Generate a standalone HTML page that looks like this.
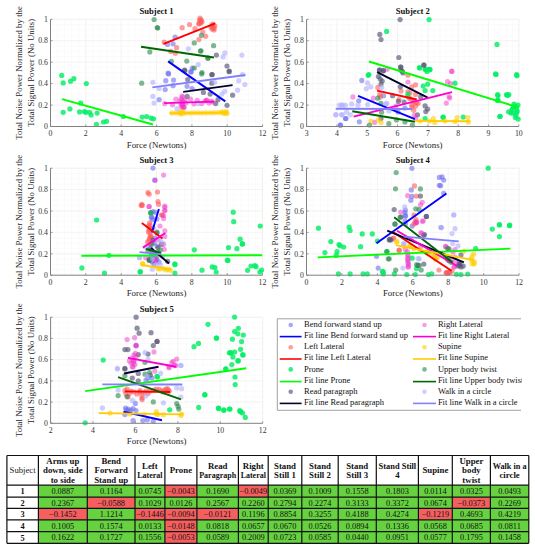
<!DOCTYPE html>
<html><head><meta charset="utf-8"><style>
html,body{margin:0;padding:0;background:#fff;width:535px;height:550px;overflow:hidden}
svg{position:absolute;left:0;top:0;display:block}
text{font-family:"Liberation Serif", serif;fill:#222}
.tk{font-size:7.8px;fill:#333}
.ti{font-size:8.6px;font-weight:bold;fill:#111}
.lb{font-size:8.85px;fill:#222}
.lg{font-size:8.5px;fill:#111}
.tv{font-size:8.3px;fill:#111}
.tsub{font-size:8.7px;fill:#222}
.tb{font-size:8.3px;font-weight:bold;fill:#111}
.th{font-size:8.8px;font-weight:bold;fill:#111}
</style></head><body>
<svg width="535" height="550" viewBox="0 0 535 550">
<path d="M57.6 19.3V126.5M64.6 19.3V126.5M71.7 19.3V126.5M78.8 19.3V126.5M85.9 19.3V126.5M92.9 19.3V126.5M100 19.3V126.5M107.1 19.3V126.5M114.1 19.3V126.5M121.2 19.3V126.5M128.3 19.3V126.5M135.3 19.3V126.5M142.4 19.3V126.5M149.5 19.3V126.5M156.6 19.3V126.5M163.6 19.3V126.5M170.7 19.3V126.5M177.8 19.3V126.5M184.8 19.3V126.5M191.9 19.3V126.5M199 19.3V126.5M206 19.3V126.5M213.1 19.3V126.5M220.2 19.3V126.5M227.3 19.3V126.5M234.3 19.3V126.5M241.4 19.3V126.5M248.5 19.3V126.5M255.5 19.3V126.5M50.5 121.1H262.6M50.5 115.8H262.6M50.5 110.4H262.6M50.5 105.1H262.6M50.5 99.7H262.6M50.5 94.3H262.6M50.5 89H262.6M50.5 83.6H262.6M50.5 78.3H262.6M50.5 72.9H262.6M50.5 67.5H262.6M50.5 62.2H262.6M50.5 56.8H262.6M50.5 51.5H262.6M50.5 46.1H262.6M50.5 40.7H262.6M50.5 35.4H262.6M50.5 30H262.6M50.5 24.7H262.6" stroke="#f7f7f7" stroke-width="0.5" fill="none"/>
<path d="M85.8 19.3V126.5M121.2 19.3V126.5M156.6 19.3V126.5M191.9 19.3V126.5M227.2 19.3V126.5M50.5 105.1H262.6M50.5 83.6H262.6M50.5 62.2H262.6M50.5 40.7H262.6" stroke="#efefef" stroke-width="0.6" fill="none"/>
<path d="M50.5 19.3H262.6V126.5" stroke="#ececec" stroke-width="0.8" fill="none"/>
<g fill="rgba(110,110,240,0.6)"><circle cx="175.1" cy="37.2" r="2.6"/><circle cx="173.1" cy="43.8" r="2.6"/><circle cx="167.5" cy="44.4" r="2.6"/><circle cx="192.3" cy="68" r="2.6"/><circle cx="191" cy="71.9" r="2.6"/><circle cx="168.1" cy="73.2" r="2.6"/><circle cx="168.6" cy="73.9" r="2.6"/><circle cx="191" cy="71.7" r="2.6"/><circle cx="173.6" cy="80.1" r="2.6"/><circle cx="165.8" cy="80.7" r="2.6"/><circle cx="187.1" cy="86.3" r="2.6"/><circle cx="173.1" cy="85.7" r="2.6"/><circle cx="165.2" cy="89.6" r="2.6"/><circle cx="159.1" cy="99.7" r="2.6"/><circle cx="192.1" cy="88.5" r="2.6"/></g>
<g fill="rgba(255,90,90,0.6)"><circle cx="182.1" cy="27.7" r="2.6"/><circle cx="189.5" cy="24.6" r="2.6"/><circle cx="199.5" cy="20.2" r="2.6"/><circle cx="198.9" cy="23.5" r="2.6"/><circle cx="195" cy="28.7" r="2.6"/><circle cx="202.8" cy="32" r="2.6"/><circle cx="205.7" cy="36.3" r="2.6"/><circle cx="198.9" cy="39.6" r="2.6"/><circle cx="164.2" cy="42.2" r="2.6"/><circle cx="176.6" cy="47.7" r="2.6"/><circle cx="170.7" cy="51.4" r="2.6"/><circle cx="175.3" cy="53.2" r="2.6"/><circle cx="214" cy="28.4" r="2.6"/><circle cx="201.2" cy="19.9" r="2.6"/><circle cx="200.6" cy="22.9" r="2.6"/><circle cx="212" cy="25" r="2.6"/><circle cx="200" cy="18" r="2.6"/><circle cx="201" cy="21" r="2.6"/><circle cx="199" cy="24" r="2.6"/><circle cx="202" cy="22" r="2.6"/><circle cx="213" cy="27" r="2.6"/><circle cx="212" cy="29" r="2.6"/><circle cx="214" cy="30" r="2.6"/><circle cx="215" cy="26" r="2.6"/><circle cx="213" cy="24" r="2.6"/><circle cx="211" cy="27" r="2.6"/></g>
<g fill="rgba(0,238,100,0.82)"><circle cx="61.7" cy="75.4" r="2.6"/><circle cx="63.2" cy="82.9" r="2.6"/><circle cx="70.5" cy="81.2" r="2.6"/><circle cx="73.9" cy="78.7" r="2.6"/><circle cx="86.3" cy="83.5" r="2.6"/><circle cx="80.7" cy="103" r="2.6"/><circle cx="63.2" cy="112.3" r="2.6"/><circle cx="69.9" cy="108.9" r="2.6"/><circle cx="79.6" cy="111.9" r="2.6"/><circle cx="84.4" cy="111.6" r="2.6"/><circle cx="85.9" cy="112.3" r="2.6"/><circle cx="89.6" cy="112.3" r="2.6"/><circle cx="91.1" cy="115" r="2.6"/><circle cx="97.1" cy="113.1" r="2.6"/><circle cx="96.4" cy="124.3" r="2.6"/><circle cx="103.5" cy="122" r="2.6"/><circle cx="106.5" cy="121.3" r="2.6"/><circle cx="123.3" cy="116.5" r="2.6"/><circle cx="142.2" cy="117.1" r="2.6"/><circle cx="151.2" cy="118.2" r="2.6"/><circle cx="146.7" cy="116.5" r="2.6"/><circle cx="153.5" cy="118.8" r="2.6"/></g>
<g fill="rgba(85,85,115,0.65)"><circle cx="184.5" cy="70" r="2.6"/><circle cx="216.4" cy="55.1" r="2.6"/><circle cx="227" cy="66" r="2.6"/><circle cx="229.2" cy="71.1" r="2.6"/><circle cx="212.2" cy="74.5" r="2.6"/><circle cx="187.7" cy="79.5" r="2.6"/><circle cx="184.9" cy="70.6" r="2.6"/><circle cx="187.1" cy="96.4" r="2.6"/><circle cx="229.2" cy="71.7" r="2.6"/><circle cx="211.8" cy="74.7" r="2.6"/><circle cx="211.8" cy="83.2" r="2.6"/><circle cx="232.6" cy="95.2" r="2.6"/><circle cx="227" cy="105.3" r="2.6"/><circle cx="210.1" cy="94.1" r="2.6"/><circle cx="203.4" cy="92.4" r="2.6"/><circle cx="218" cy="99.7" r="2.6"/><circle cx="215.7" cy="103.6" r="2.6"/></g>
<g fill="rgba(240,50,200,0.48)"><circle cx="164.7" cy="103.6" r="2.6"/><circle cx="175.9" cy="99.2" r="2.6"/><circle cx="182.6" cy="97" r="2.6"/><circle cx="182.6" cy="101" r="2.6"/><circle cx="182.6" cy="105" r="2.6"/><circle cx="184" cy="107" r="2.6"/><circle cx="190.5" cy="99.2" r="2.6"/><circle cx="172.5" cy="104.8" r="2.6"/><circle cx="181.5" cy="107" r="2.6"/><circle cx="197.2" cy="100.3" r="2.6"/><circle cx="206.2" cy="100.3" r="2.6"/><circle cx="212.9" cy="102" r="2.6"/><circle cx="201.7" cy="103.6" r="2.6"/><circle cx="186" cy="103" r="2.6"/><circle cx="194" cy="104" r="2.6"/><circle cx="181" cy="99" r="2.6"/><circle cx="183" cy="102" r="2.6"/><circle cx="182" cy="105" r="2.6"/><circle cx="184" cy="107" r="2.6"/><circle cx="180" cy="101" r="2.6"/><circle cx="185" cy="100" r="2.6"/><circle cx="182" cy="96" r="2.6"/><circle cx="181" cy="104" r="2.6"/><circle cx="183" cy="108" r="2.6"/><circle cx="205" cy="101" r="2.6"/><circle cx="209" cy="103" r="2.6"/><circle cx="207" cy="100" r="2.6"/><circle cx="211" cy="101" r="2.6"/></g>
<g fill="rgba(255,205,0,0.6)"><circle cx="172" cy="113" r="2.6"/><circle cx="176" cy="113" r="2.6"/><circle cx="180" cy="112.8" r="2.6"/><circle cx="183" cy="113.2" r="2.6"/><circle cx="186" cy="112.8" r="2.6"/><circle cx="190" cy="113" r="2.6"/><circle cx="194" cy="112.8" r="2.6"/><circle cx="198" cy="112.8" r="2.6"/><circle cx="202" cy="113" r="2.6"/><circle cx="206" cy="112.8" r="2.6"/><circle cx="210" cy="112.8" r="2.6"/><circle cx="214" cy="112.8" r="2.6"/><circle cx="218" cy="112.6" r="2.6"/><circle cx="222" cy="112.6" r="2.6"/><circle cx="226" cy="112.6" r="2.6"/><circle cx="180" cy="112" r="2.6"/><circle cx="181" cy="114" r="2.6"/><circle cx="182" cy="111.5" r="2.6"/><circle cx="222" cy="111.8" r="2.6"/><circle cx="224" cy="113.5" r="2.6"/><circle cx="226" cy="111.5" r="2.6"/><circle cx="227" cy="113.4" r="2.6"/></g>
<g fill="rgba(40,135,75,0.6)"><circle cx="154.1" cy="19.6" r="2.6"/><circle cx="157.7" cy="28.1" r="2.6"/><circle cx="149.8" cy="51.9" r="2.6"/><circle cx="194.3" cy="42.9" r="2.6"/><circle cx="201.5" cy="35.3" r="2.6"/><circle cx="200.4" cy="51" r="2.6"/><circle cx="186.8" cy="61.1" r="2.6"/><circle cx="171.4" cy="61.4" r="2.6"/><circle cx="208" cy="58.2" r="2.6"/><circle cx="202" cy="72.6" r="2.6"/><circle cx="194.3" cy="68" r="2.6"/><circle cx="213.6" cy="45.7" r="2.6"/><circle cx="201" cy="50.8" r="2.6"/><circle cx="207.9" cy="58.1" r="2.6"/><circle cx="141.7" cy="83.2" r="2.6"/><circle cx="201.7" cy="73.9" r="2.6"/><circle cx="157.2" cy="27.5" r="2.6"/></g>
<g fill="rgba(175,175,255,0.6)"><circle cx="188.4" cy="48.8" r="2.6"/><circle cx="198.2" cy="64.7" r="2.6"/><circle cx="224.9" cy="52.9" r="2.6"/><circle cx="223.1" cy="56.9" r="2.6"/><circle cx="241.9" cy="55.1" r="2.6"/><circle cx="242.5" cy="74.5" r="2.6"/><circle cx="152.9" cy="82.3" r="2.6"/><circle cx="159.1" cy="88.5" r="2.6"/><circle cx="152.9" cy="96.4" r="2.6"/><circle cx="154" cy="103.1" r="2.6"/><circle cx="177" cy="108.7" r="2.6"/><circle cx="198.3" cy="103.6" r="2.6"/><circle cx="238.7" cy="80.7" r="2.6"/><circle cx="244.9" cy="84.6" r="2.6"/><circle cx="237.6" cy="90.2" r="2.6"/><circle cx="224.7" cy="91.3" r="2.6"/><circle cx="221.9" cy="94.1" r="2.6"/><circle cx="214.6" cy="82.3" r="2.6"/></g>
<line x1="168.1" y1="61.4" x2="225.3" y2="101.4" stroke="#0000ff" stroke-width="1.9"/>
<line x1="163.6" y1="43.8" x2="215.2" y2="23.3" stroke="#ff0000" stroke-width="1.9"/>
<line x1="62" y1="99.2" x2="153" y2="124.5" stroke="#00ff00" stroke-width="1.9"/>
<line x1="183.2" y1="91.9" x2="232.6" y2="85.1" stroke="#000033" stroke-width="1.9"/>
<line x1="164.1" y1="103.1" x2="214" y2="101.6" stroke="#ff00cc" stroke-width="1.9"/>
<line x1="169.7" y1="113.2" x2="227" y2="112.6" stroke="#ffcc00" stroke-width="1.9"/>
<line x1="141" y1="46.8" x2="214" y2="57.5" stroke="#006600" stroke-width="1.9"/>
<line x1="152.3" y1="87.4" x2="245.5" y2="75" stroke="#8080ff" stroke-width="1.9"/>
<path d="M50.5 19.3V126.5H262.6" stroke="#808080" stroke-width="1" fill="none"/>
<path d="M50.5 126.5v-2M85.8 126.5v-2M121.2 126.5v-2M156.6 126.5v-2M191.9 126.5v-2M227.2 126.5v-2M262.6 126.5v-2M50.5 126.5h2M50.5 105.1h2M50.5 83.6h2M50.5 62.2h2M50.5 40.7h2M50.5 19.3h2" stroke="#808080" stroke-width="0.8" fill="none"/>
<text x="50.5" y="135.9" text-anchor="middle" class="tk">0</text>
<text x="85.8" y="135.9" text-anchor="middle" class="tk">2</text>
<text x="121.2" y="135.9" text-anchor="middle" class="tk">4</text>
<text x="156.6" y="135.9" text-anchor="middle" class="tk">6</text>
<text x="191.9" y="135.9" text-anchor="middle" class="tk">8</text>
<text x="227.2" y="135.9" text-anchor="middle" class="tk">10</text>
<text x="262.6" y="135.9" text-anchor="middle" class="tk">12</text>
<text x="47.9" y="129.2" text-anchor="end" class="tk">0</text>
<text x="47.9" y="107.8" text-anchor="end" class="tk">0.2</text>
<text x="47.9" y="86.3" text-anchor="end" class="tk">0.4</text>
<text x="47.9" y="64.9" text-anchor="end" class="tk">0.6</text>
<text x="47.9" y="43.4" text-anchor="end" class="tk">0.8</text>
<text x="47.9" y="22" text-anchor="end" class="tk">1</text>
<text x="156.6" y="14.3" text-anchor="middle" class="ti">Subject 1</text>
<text x="156.6" y="147.6" text-anchor="middle" class="lb">Force (Newtons)</text>
<text transform="translate(21.9 72.9) rotate(-90)" text-anchor="middle" class="lb"><tspan x="0" y="0">Total Noise Power Normalized by the</tspan><tspan x="0" y="12.3">Total Signal Power (No Units)</tspan></text>
<path d="M312.7 19.3V126.5M318.7 19.3V126.5M324.8 19.3V126.5M330.9 19.3V126.5M336.9 19.3V126.5M343 19.3V126.5M349 19.3V126.5M355.1 19.3V126.5M361.2 19.3V126.5M367.2 19.3V126.5M373.3 19.3V126.5M379.4 19.3V126.5M385.4 19.3V126.5M391.5 19.3V126.5M397.5 19.3V126.5M403.6 19.3V126.5M409.7 19.3V126.5M415.7 19.3V126.5M421.8 19.3V126.5M427.9 19.3V126.5M433.9 19.3V126.5M440 19.3V126.5M446 19.3V126.5M452.1 19.3V126.5M458.2 19.3V126.5M464.2 19.3V126.5M470.3 19.3V126.5M476.4 19.3V126.5M482.4 19.3V126.5M488.5 19.3V126.5M494.5 19.3V126.5M500.6 19.3V126.5M506.7 19.3V126.5M512.7 19.3V126.5M306.6 121.1H518.8M306.6 115.8H518.8M306.6 110.4H518.8M306.6 105.1H518.8M306.6 99.7H518.8M306.6 94.3H518.8M306.6 89H518.8M306.6 83.6H518.8M306.6 78.3H518.8M306.6 72.9H518.8M306.6 67.5H518.8M306.6 62.2H518.8M306.6 56.8H518.8M306.6 51.5H518.8M306.6 46.1H518.8M306.6 40.7H518.8M306.6 35.4H518.8M306.6 30H518.8M306.6 24.7H518.8" stroke="#f7f7f7" stroke-width="0.5" fill="none"/>
<path d="M336.9 19.3V126.5M367.2 19.3V126.5M397.5 19.3V126.5M427.9 19.3V126.5M458.2 19.3V126.5M488.5 19.3V126.5M306.6 105.1H518.8M306.6 83.6H518.8M306.6 62.2H518.8M306.6 40.7H518.8" stroke="#efefef" stroke-width="0.6" fill="none"/>
<path d="M306.6 19.3H518.8V126.5" stroke="#ececec" stroke-width="0.8" fill="none"/>
<g fill="rgba(110,110,240,0.6)"><circle cx="361.8" cy="80.4" r="2.6"/><circle cx="358.7" cy="100.8" r="2.6"/><circle cx="383.5" cy="95.7" r="2.6"/><circle cx="345.9" cy="118.6" r="2.6"/><circle cx="359.3" cy="121.8" r="2.6"/><circle cx="340.2" cy="125" r="2.6"/><circle cx="345.5" cy="118.5" r="2.6"/><circle cx="340.5" cy="125.2" r="2.6"/><circle cx="405" cy="108" r="2.6"/><circle cx="398" cy="112" r="2.6"/></g>
<g fill="rgba(255,90,90,0.6)"><circle cx="377.8" cy="87.4" r="2.6"/><circle cx="379.7" cy="94.4" r="2.6"/><circle cx="380.3" cy="96.9" r="2.6"/><circle cx="407.9" cy="75.3" r="2.6"/><circle cx="415.6" cy="84.8" r="2.6"/><circle cx="411.8" cy="86.8" r="2.6"/><circle cx="407.9" cy="91.8" r="2.6"/><circle cx="415.6" cy="94.4" r="2.6"/><circle cx="409.2" cy="98.2" r="2.6"/><circle cx="411.8" cy="105.2" r="2.6"/><circle cx="415.6" cy="105.9" r="2.6"/><circle cx="413.7" cy="110.3" r="2.6"/><circle cx="399" cy="99.5" r="2.6"/><circle cx="418.1" cy="103.3" r="2.6"/><circle cx="408" cy="96.5" r="2.6"/><circle cx="411" cy="99" r="2.6"/><circle cx="414" cy="101.5" r="2.6"/><circle cx="412" cy="107" r="2.6"/><circle cx="416.5" cy="103" r="2.6"/><circle cx="410" cy="93" r="2.6"/><circle cx="401" cy="91" r="2.6"/></g>
<g fill="rgba(0,238,100,0.82)"><circle cx="386.6" cy="31.4" r="2.6"/><circle cx="429.1" cy="19.6" r="2.6"/><circle cx="419.7" cy="68" r="2.6"/><circle cx="425.2" cy="69.3" r="2.6"/><circle cx="429.1" cy="69.3" r="2.6"/><circle cx="368.9" cy="74.5" r="2.6"/><circle cx="497" cy="44.4" r="2.6"/><circle cx="430" cy="69.7" r="2.6"/><circle cx="495.6" cy="73.9" r="2.6"/><circle cx="516.6" cy="74.7" r="2.6"/><circle cx="368.2" cy="75.3" r="2.6"/><circle cx="419.4" cy="67.6" r="2.6"/><circle cx="425.8" cy="69.6" r="2.6"/><circle cx="429.6" cy="69.6" r="2.6"/><circle cx="427" cy="71.5" r="2.6"/><circle cx="423.2" cy="86.1" r="2.6"/><circle cx="427.7" cy="84.2" r="2.6"/><circle cx="425.1" cy="90.6" r="2.6"/><circle cx="432.8" cy="90.6" r="2.6"/><circle cx="407.9" cy="94.4" r="2.6"/><circle cx="443" cy="117.3" r="2.6"/><circle cx="425.1" cy="118.6" r="2.6"/><circle cx="455" cy="83.2" r="2.6"/><circle cx="496.1" cy="74.5" r="2.6"/><circle cx="517" cy="75.7" r="2.6"/><circle cx="497.6" cy="94.7" r="2.6"/><circle cx="506.5" cy="94.7" r="2.6"/><circle cx="508.8" cy="94.7" r="2.6"/><circle cx="497.6" cy="100.4" r="2.6"/><circle cx="499.8" cy="116.5" r="2.6"/><circle cx="443.3" cy="117.1" r="2.6"/><circle cx="463.2" cy="117.1" r="2.6"/><circle cx="498" cy="100" r="2.6"/><circle cx="498" cy="95.6" r="2.6"/><circle cx="507.5" cy="95.6" r="2.6"/><circle cx="514.3" cy="106.2" r="2.6"/><circle cx="516.5" cy="107.3" r="2.6"/><circle cx="512" cy="109.6" r="2.6"/><circle cx="508.6" cy="111.8" r="2.6"/><circle cx="517" cy="110.7" r="2.6"/><circle cx="513.1" cy="113" r="2.6"/><circle cx="500.2" cy="116.3" r="2.6"/><circle cx="515.4" cy="117.4" r="2.6"/><circle cx="518.2" cy="119.1" r="2.6"/><circle cx="514" cy="104" r="2.6"/><circle cx="517" cy="112" r="2.6"/><circle cx="511" cy="113" r="2.6"/><circle cx="516" cy="115" r="2.6"/><circle cx="513" cy="108" r="2.6"/><circle cx="518" cy="105" r="2.6"/></g>
<g fill="rgba(85,85,115,0.65)"><circle cx="400.1" cy="19.6" r="2.6"/><circle cx="379.8" cy="34.4" r="2.6"/><circle cx="381" cy="39.6" r="2.6"/><circle cx="398.8" cy="57.5" r="2.6"/><circle cx="400.6" cy="67.1" r="2.6"/><circle cx="423.9" cy="65" r="2.6"/><circle cx="379.4" cy="70" r="2.6"/><circle cx="383.3" cy="70.6" r="2.6"/><circle cx="402.3" cy="71.3" r="2.6"/><circle cx="379.7" cy="70.2" r="2.6"/><circle cx="383.5" cy="70.8" r="2.6"/><circle cx="378.4" cy="76.6" r="2.6"/><circle cx="380.3" cy="79.1" r="2.6"/><circle cx="382.2" cy="81" r="2.6"/><circle cx="381" cy="118.6" r="2.6"/><circle cx="400.9" cy="67" r="2.6"/><circle cx="400.9" cy="70.2" r="2.6"/><circle cx="423.9" cy="65.1" r="2.6"/><circle cx="400.3" cy="86.8" r="2.6"/><circle cx="420.7" cy="96.9" r="2.6"/><circle cx="425.1" cy="105.9" r="2.6"/><circle cx="427.7" cy="109" r="2.6"/><circle cx="425.8" cy="111.6" r="2.6"/><circle cx="398.4" cy="101.4" r="2.6"/><circle cx="392.6" cy="95.7" r="2.6"/><circle cx="404.1" cy="102" r="2.6"/><circle cx="417.5" cy="114.8" r="2.6"/><circle cx="403" cy="73" r="2.6"/><circle cx="381" cy="84" r="2.6"/></g>
<g fill="rgba(240,50,200,0.48)"><circle cx="387.2" cy="69.3" r="2.6"/><circle cx="451.9" cy="71.4" r="2.6"/><circle cx="352.9" cy="96.9" r="2.6"/><circle cx="373.3" cy="98.2" r="2.6"/><circle cx="374.6" cy="122.4" r="2.6"/><circle cx="414.3" cy="115.4" r="2.6"/><circle cx="415.6" cy="118" r="2.6"/><circle cx="451.7" cy="71.2" r="2.6"/><circle cx="447.5" cy="81.7" r="2.6"/><circle cx="450.5" cy="83.6" r="2.6"/><circle cx="449" cy="96.6" r="2.6"/><circle cx="446.3" cy="103.1" r="2.6"/><circle cx="449.7" cy="98.1" r="2.6"/><circle cx="408" cy="82" r="2.6"/><circle cx="396" cy="106" r="2.6"/></g>
<g fill="rgba(255,205,0,0.6)"><circle cx="370.8" cy="121.1" r="2.6"/><circle cx="378.4" cy="119.9" r="2.6"/><circle cx="381" cy="122.4" r="2.6"/><circle cx="433.4" cy="118.6" r="2.6"/><circle cx="434.7" cy="122.4" r="2.6"/><circle cx="429.6" cy="121.1" r="2.6"/><circle cx="457.2" cy="117.6" r="2.6"/><circle cx="467.7" cy="117.6" r="2.6"/><circle cx="468.4" cy="122.1" r="2.6"/><circle cx="420" cy="121" r="2.6"/><circle cx="445" cy="121" r="2.6"/><circle cx="455" cy="121.5" r="2.6"/></g>
<g fill="rgba(40,135,75,0.6)"><circle cx="377.8" cy="98.2" r="2.6"/><circle cx="381" cy="103.3" r="2.6"/><circle cx="381.6" cy="112.2" r="2.6"/><circle cx="369.5" cy="125" r="2.6"/><circle cx="388.8" cy="123.7" r="2.6"/><circle cx="396.5" cy="119.9" r="2.6"/><circle cx="412.4" cy="125" r="2.6"/><circle cx="405" cy="122" r="2.6"/></g>
<g fill="rgba(175,175,255,0.6)"><circle cx="367.6" cy="82.9" r="2.6"/><circle cx="370.8" cy="86.8" r="2.6"/><circle cx="366.3" cy="88.7" r="2.6"/><circle cx="381.6" cy="87.4" r="2.6"/><circle cx="351.7" cy="103.9" r="2.6"/><circle cx="341.5" cy="105.2" r="2.6"/><circle cx="345.3" cy="105.2" r="2.6"/><circle cx="358" cy="105.2" r="2.6"/><circle cx="367.6" cy="104.6" r="2.6"/><circle cx="335.7" cy="114.8" r="2.6"/><circle cx="342.1" cy="114.8" r="2.6"/><circle cx="346.6" cy="112.2" r="2.6"/><circle cx="350.4" cy="114.8" r="2.6"/><circle cx="386" cy="103.9" r="2.6"/><circle cx="388.8" cy="111" r="2.6"/><circle cx="386.9" cy="103.3" r="2.6"/><circle cx="336" cy="114.6" r="2.6"/><circle cx="341.6" cy="114.6" r="2.6"/><circle cx="339.3" cy="105" r="2.6"/><circle cx="342.7" cy="105" r="2.6"/></g>
<line x1="358" y1="95.9" x2="414.9" y2="119.2" stroke="#0000ff" stroke-width="1.9"/>
<line x1="377.1" y1="90.6" x2="416.8" y2="99.5" stroke="#ff0000" stroke-width="1.9"/>
<line x1="368.9" y1="61.5" x2="518.2" y2="107.3" stroke="#00ff00" stroke-width="1.9"/>
<line x1="377.1" y1="72.1" x2="427.7" y2="97.6" stroke="#000033" stroke-width="1.9"/>
<line x1="353.6" y1="116.7" x2="452" y2="92.1" stroke="#ff00cc" stroke-width="1.9"/>
<line x1="414.9" y1="120.9" x2="469.9" y2="121.3" stroke="#ffcc00" stroke-width="1.9"/>
<line x1="352.3" y1="111.3" x2="414.9" y2="121.8" stroke="#006600" stroke-width="1.9"/>
<line x1="335.7" y1="108.8" x2="411.8" y2="109" stroke="#8080ff" stroke-width="1.9"/>
<path d="M306.6 19.3V126.5H518.8" stroke="#808080" stroke-width="1" fill="none"/>
<path d="M306.6 126.5v-2M336.9 126.5v-2M367.2 126.5v-2M397.5 126.5v-2M427.9 126.5v-2M458.2 126.5v-2M488.5 126.5v-2M518.8 126.5v-2M306.6 126.5h2M306.6 105.1h2M306.6 83.6h2M306.6 62.2h2M306.6 40.7h2M306.6 19.3h2" stroke="#808080" stroke-width="0.8" fill="none"/>
<text x="306.6" y="135.9" text-anchor="middle" class="tk">3</text>
<text x="336.9" y="135.9" text-anchor="middle" class="tk">4</text>
<text x="367.2" y="135.9" text-anchor="middle" class="tk">5</text>
<text x="397.5" y="135.9" text-anchor="middle" class="tk">6</text>
<text x="427.9" y="135.9" text-anchor="middle" class="tk">7</text>
<text x="458.2" y="135.9" text-anchor="middle" class="tk">8</text>
<text x="488.5" y="135.9" text-anchor="middle" class="tk">9</text>
<text x="518.8" y="135.9" text-anchor="middle" class="tk">10</text>
<text x="304" y="129.2" text-anchor="end" class="tk">0</text>
<text x="304" y="107.8" text-anchor="end" class="tk">0.2</text>
<text x="304" y="86.3" text-anchor="end" class="tk">0.4</text>
<text x="304" y="64.9" text-anchor="end" class="tk">0.6</text>
<text x="304" y="43.4" text-anchor="end" class="tk">0.8</text>
<text x="304" y="22" text-anchor="end" class="tk">1</text>
<text x="412.7" y="14.3" text-anchor="middle" class="ti">Subject 2</text>
<text x="412.7" y="147.6" text-anchor="middle" class="lb">Force (Newtons)</text>
<text transform="translate(278 72.9) rotate(-90)" text-anchor="middle" class="lb"><tspan x="0" y="0">Total Noise Power Normalized by the</tspan><tspan x="0" y="12.3">Total Signal Power (No Units)</tspan></text>
<path d="M57.6 168.2V275.2M64.6 168.2V275.2M71.7 168.2V275.2M78.8 168.2V275.2M85.8 168.2V275.2M92.9 168.2V275.2M100 168.2V275.2M107 168.2V275.2M114.1 168.2V275.2M121.2 168.2V275.2M128.2 168.2V275.2M135.3 168.2V275.2M142.4 168.2V275.2M149.4 168.2V275.2M156.5 168.2V275.2M163.6 168.2V275.2M170.6 168.2V275.2M177.7 168.2V275.2M184.8 168.2V275.2M191.8 168.2V275.2M198.9 168.2V275.2M206 168.2V275.2M213 168.2V275.2M220.1 168.2V275.2M227.2 168.2V275.2M234.2 168.2V275.2M241.3 168.2V275.2M248.4 168.2V275.2M255.4 168.2V275.2M50.5 269.8H262.5M50.5 264.5H262.5M50.5 259.1H262.5M50.5 253.8H262.5M50.5 248.4H262.5M50.5 243.1H262.5M50.5 237.8H262.5M50.5 232.4H262.5M50.5 227H262.5M50.5 221.7H262.5M50.5 216.3H262.5M50.5 211H262.5M50.5 205.6H262.5M50.5 200.3H262.5M50.5 194.9H262.5M50.5 189.6H262.5M50.5 184.2H262.5M50.5 178.9H262.5M50.5 173.5H262.5" stroke="#f7f7f7" stroke-width="0.5" fill="none"/>
<path d="M85.8 168.2V275.2M121.2 168.2V275.2M156.5 168.2V275.2M191.8 168.2V275.2M227.2 168.2V275.2M50.5 253.8H262.5M50.5 232.4H262.5M50.5 211H262.5M50.5 189.6H262.5" stroke="#efefef" stroke-width="0.6" fill="none"/>
<path d="M50.5 168.2H262.5V275.2" stroke="#ececec" stroke-width="0.8" fill="none"/>
<g fill="rgba(110,110,240,0.6)"><circle cx="153" cy="168.1" r="2.6"/><circle cx="154.9" cy="180.2" r="2.6"/><circle cx="153" cy="211.6" r="2.6"/><circle cx="151.3" cy="217.2" r="2.6"/><circle cx="151.9" cy="217.3" r="2.6"/><circle cx="155.2" cy="212.3" r="2.6"/><circle cx="152.4" cy="219.6" r="2.6"/><circle cx="156.9" cy="219" r="2.6"/><circle cx="150.2" cy="247.6" r="2.6"/><circle cx="152.4" cy="254.3" r="2.6"/><circle cx="154.7" cy="256.6" r="2.6"/><circle cx="152.4" cy="258" r="2.6"/><circle cx="151.3" cy="250.1" r="2.6"/><circle cx="155" cy="238" r="2.6"/><circle cx="153" cy="228" r="2.6"/><circle cx="154" cy="243" r="2.6"/><circle cx="157" cy="246" r="2.6"/><circle cx="152" cy="262" r="2.6"/><circle cx="156" cy="260" r="2.6"/><circle cx="150" cy="248" r="2.6"/><circle cx="152" cy="251" r="2.6"/><circle cx="155" cy="253" r="2.6"/><circle cx="151" cy="256" r="2.6"/><circle cx="157" cy="259" r="2.6"/><circle cx="154" cy="264" r="2.6"/><circle cx="159" cy="262" r="2.6"/></g>
<g fill="rgba(255,90,90,0.6)"><circle cx="147.9" cy="192.5" r="2.6"/><circle cx="149.1" cy="194.2" r="2.6"/><circle cx="157.5" cy="192" r="2.6"/><circle cx="158" cy="201.5" r="2.6"/><circle cx="158.6" cy="204.3" r="2.6"/><circle cx="141.8" cy="204.3" r="2.6"/><circle cx="142.3" cy="205.4" r="2.6"/><circle cx="161.4" cy="215" r="2.6"/><circle cx="149.6" cy="222.9" r="2.6"/><circle cx="148.5" cy="231.9" r="2.6"/><circle cx="150.2" cy="236.4" r="2.6"/><circle cx="149.6" cy="238.6" r="2.6"/><circle cx="147.5" cy="242" r="2.6"/><circle cx="162.5" cy="215.1" r="2.6"/><circle cx="141.2" cy="205.6" r="2.6"/><circle cx="149.5" cy="228" r="2.6"/><circle cx="150" cy="233" r="2.6"/><circle cx="149" cy="240" r="2.6"/><circle cx="151" cy="236" r="2.6"/><circle cx="148.5" cy="226" r="2.6"/><circle cx="150.5" cy="244" r="2.6"/><circle cx="149" cy="230" r="2.6"/><circle cx="150" cy="225" r="2.6"/><circle cx="151" cy="238" r="2.6"/></g>
<g fill="rgba(0,238,100,0.82)"><circle cx="228.5" cy="247.6" r="2.6"/><circle cx="236.9" cy="248.7" r="2.6"/><circle cx="242.5" cy="243.9" r="2.6"/><circle cx="240.1" cy="239.2" r="2.6"/><circle cx="228" cy="260.5" r="2.6"/><circle cx="212.2" cy="266.9" r="2.6"/><circle cx="215" cy="267.5" r="2.6"/><circle cx="216.2" cy="272" r="2.6"/><circle cx="247.6" cy="270.3" r="2.6"/><circle cx="251" cy="266" r="2.6"/><circle cx="254.9" cy="265.6" r="2.6"/><circle cx="256" cy="266.7" r="2.6"/><circle cx="259.9" cy="272" r="2.6"/><circle cx="261.6" cy="270" r="2.6"/><circle cx="233.2" cy="212.2" r="2.6"/><circle cx="233.7" cy="221.7" r="2.6"/><circle cx="260.2" cy="226" r="2.6"/><circle cx="242.3" cy="243.9" r="2.6"/><circle cx="194.3" cy="249.8" r="2.6"/><circle cx="150.7" cy="212.9" r="2.6"/><circle cx="174.9" cy="263.9" r="2.6"/><circle cx="140.1" cy="272" r="2.6"/><circle cx="174.9" cy="273.1" r="2.6"/><circle cx="174.9" cy="264.7" r="2.6"/><circle cx="108.9" cy="255.3" r="2.6"/><circle cx="81.9" cy="267.9" r="2.6"/><circle cx="104.5" cy="273.1" r="2.6"/><circle cx="140.3" cy="271.6" r="2.6"/><circle cx="96.6" cy="220" r="2.6"/><circle cx="202" cy="270.2" r="2.6"/><circle cx="227.3" cy="260.2" r="2.6"/></g>
<g fill="rgba(85,85,115,0.65)"><circle cx="156.9" cy="233" r="2.6"/><circle cx="158" cy="247.6" r="2.6"/><circle cx="161.4" cy="244.3" r="2.6"/><circle cx="149.1" cy="260" r="2.6"/><circle cx="149.1" cy="259.6" r="2.6"/><circle cx="167.6" cy="261.3" r="2.6"/><circle cx="153" cy="240" r="2.6"/></g>
<g fill="rgba(240,50,200,0.48)"><circle cx="163.6" cy="175.1" r="2.6"/><circle cx="154.9" cy="180.2" r="2.6"/><circle cx="149.1" cy="206.5" r="2.6"/><circle cx="164.8" cy="206" r="2.6"/><circle cx="164.8" cy="210.5" r="2.6"/><circle cx="163.6" cy="215.5" r="2.6"/><circle cx="163.6" cy="218.5" r="2.6"/><circle cx="164.8" cy="230.8" r="2.6"/><circle cx="164.8" cy="236.4" r="2.6"/><circle cx="163.6" cy="244.3" r="2.6"/><circle cx="164.2" cy="249.3" r="2.6"/><circle cx="155" cy="260" r="2.6"/><circle cx="156" cy="257" r="2.6"/><circle cx="149.1" cy="206.7" r="2.6"/><circle cx="164.8" cy="207.2" r="2.6"/><circle cx="164.8" cy="210.6" r="2.6"/><circle cx="145.7" cy="257.7" r="2.6"/><circle cx="155.2" cy="261.1" r="2.6"/><circle cx="158" cy="240" r="2.6"/><circle cx="160" cy="226" r="2.6"/></g>
<g fill="rgba(255,205,0,0.6)"><circle cx="142.9" cy="263.9" r="2.6"/><circle cx="142.3" cy="263.6" r="2.6"/><circle cx="158" cy="268.6" r="2.6"/><circle cx="163.6" cy="268.6" r="2.6"/><circle cx="168.1" cy="269.2" r="2.6"/><circle cx="170.4" cy="270.3" r="2.6"/><circle cx="160" cy="269" r="2.6"/><circle cx="166" cy="270" r="2.6"/></g>
<g fill="rgba(40,135,75,0.6)"><circle cx="150.7" cy="212.7" r="2.6"/><circle cx="147.9" cy="249.9" r="2.6"/><circle cx="160.3" cy="249.9" r="2.6"/><circle cx="158" cy="252.1" r="2.6"/><circle cx="149.6" cy="260.5" r="2.6"/><circle cx="152" cy="244" r="2.6"/><circle cx="157" cy="232" r="2.6"/></g>
<g fill="rgba(175,175,255,0.6)"><circle cx="139.5" cy="257.7" r="2.6"/><circle cx="162.5" cy="256.6" r="2.6"/><circle cx="152.4" cy="258.8" r="2.6"/><circle cx="139.5" cy="257.4" r="2.6"/><circle cx="152.4" cy="269.2" r="2.6"/><circle cx="155.8" cy="265.2" r="2.6"/><circle cx="160.3" cy="264.7" r="2.6"/><circle cx="146" cy="247" r="2.6"/><circle cx="160" cy="240" r="2.6"/><circle cx="163" cy="243" r="2.6"/></g>
<line x1="158.9" y1="208.9" x2="151.9" y2="232.5" stroke="#0000ff" stroke-width="1.9"/>
<line x1="141.8" y1="222.9" x2="162.5" y2="238.6" stroke="#ff0000" stroke-width="1.9"/>
<line x1="81.4" y1="255.7" x2="262.2" y2="255.3" stroke="#00ff00" stroke-width="1.9"/>
<line x1="151" y1="248" x2="169" y2="263.5" stroke="#000033" stroke-width="1.9"/>
<line x1="142.9" y1="247.6" x2="165.3" y2="233" stroke="#ff00cc" stroke-width="1.9"/>
<line x1="141.4" y1="265" x2="171.4" y2="269.5" stroke="#ffcc00" stroke-width="1.9"/>
<line x1="146" y1="249" x2="161" y2="253" stroke="#006600" stroke-width="1.9"/>
<line x1="139.5" y1="252.1" x2="161.4" y2="254.3" stroke="#8080ff" stroke-width="1.9"/>
<path d="M50.5 168.2V275.2H262.5" stroke="#808080" stroke-width="1" fill="none"/>
<path d="M50.5 275.2v-2M85.8 275.2v-2M121.2 275.2v-2M156.5 275.2v-2M191.8 275.2v-2M227.2 275.2v-2M262.5 275.2v-2M50.5 275.2h2M50.5 253.8h2M50.5 232.4h2M50.5 211h2M50.5 189.6h2M50.5 168.2h2" stroke="#808080" stroke-width="0.8" fill="none"/>
<text x="50.5" y="284.6" text-anchor="middle" class="tk">0</text>
<text x="85.8" y="284.6" text-anchor="middle" class="tk">2</text>
<text x="121.2" y="284.6" text-anchor="middle" class="tk">4</text>
<text x="156.5" y="284.6" text-anchor="middle" class="tk">6</text>
<text x="191.8" y="284.6" text-anchor="middle" class="tk">8</text>
<text x="227.2" y="284.6" text-anchor="middle" class="tk">10</text>
<text x="262.5" y="284.6" text-anchor="middle" class="tk">12</text>
<text x="47.9" y="277.9" text-anchor="end" class="tk">0</text>
<text x="47.9" y="256.5" text-anchor="end" class="tk">0.2</text>
<text x="47.9" y="235.1" text-anchor="end" class="tk">0.4</text>
<text x="47.9" y="213.7" text-anchor="end" class="tk">0.6</text>
<text x="47.9" y="192.3" text-anchor="end" class="tk">0.8</text>
<text x="47.9" y="170.9" text-anchor="end" class="tk">1</text>
<text x="156.5" y="163.2" text-anchor="middle" class="ti">Subject 3</text>
<text x="156.5" y="296.3" text-anchor="middle" class="lb">Force (Newtons)</text>
<text transform="translate(21.9 221.7) rotate(-90)" text-anchor="middle" class="lb"><tspan x="0" y="0">Total Noise Power Normalized by the</tspan><tspan x="0" y="12.3">Total Signal Power (No Units)</tspan></text>
<path d="M313.6 168.2V275.2M320.7 168.2V275.2M327.8 168.2V275.2M334.8 168.2V275.2M341.9 168.2V275.2M349 168.2V275.2M356.1 168.2V275.2M363.2 168.2V275.2M370.3 168.2V275.2M377.4 168.2V275.2M384.5 168.2V275.2M391.5 168.2V275.2M398.6 168.2V275.2M405.7 168.2V275.2M412.8 168.2V275.2M419.9 168.2V275.2M427 168.2V275.2M434.1 168.2V275.2M441.1 168.2V275.2M448.2 168.2V275.2M455.3 168.2V275.2M462.4 168.2V275.2M469.5 168.2V275.2M476.6 168.2V275.2M483.7 168.2V275.2M490.8 168.2V275.2M497.8 168.2V275.2M504.9 168.2V275.2M512 168.2V275.2M306.5 269.8H519.1M306.5 264.5H519.1M306.5 259.1H519.1M306.5 253.8H519.1M306.5 248.4H519.1M306.5 243.1H519.1M306.5 237.8H519.1M306.5 232.4H519.1M306.5 227H519.1M306.5 221.7H519.1M306.5 216.3H519.1M306.5 211H519.1M306.5 205.6H519.1M306.5 200.3H519.1M306.5 194.9H519.1M306.5 189.6H519.1M306.5 184.2H519.1M306.5 178.9H519.1M306.5 173.5H519.1" stroke="#f7f7f7" stroke-width="0.5" fill="none"/>
<path d="M341.9 168.2V275.2M377.4 168.2V275.2M412.8 168.2V275.2M448.2 168.2V275.2M483.7 168.2V275.2M306.5 253.8H519.1M306.5 232.4H519.1M306.5 211H519.1M306.5 189.6H519.1" stroke="#efefef" stroke-width="0.6" fill="none"/>
<path d="M306.5 168.2H519.1V275.2" stroke="#ececec" stroke-width="0.8" fill="none"/>
<g fill="rgba(110,110,240,0.6)"><circle cx="376.5" cy="256.3" r="2.6"/><circle cx="378.2" cy="268" r="2.6"/><circle cx="411.9" cy="168.3" r="2.6"/><circle cx="411.2" cy="189.9" r="2.6"/><circle cx="411.9" cy="196.4" r="2.6"/><circle cx="410.8" cy="200.3" r="2.6"/><circle cx="405.3" cy="210.1" r="2.6"/><circle cx="405.3" cy="215.4" r="2.6"/><circle cx="439.3" cy="185.3" r="2.6"/><circle cx="439.3" cy="177.4" r="2.6"/><circle cx="442.1" cy="176.9" r="2.6"/><circle cx="443.7" cy="180.1" r="2.6"/><circle cx="440.6" cy="185.7" r="2.6"/><circle cx="443.7" cy="193.3" r="2.6"/><circle cx="412.1" cy="226.1" r="2.6"/><circle cx="405.5" cy="216.3" r="2.6"/><circle cx="441.2" cy="227.6" r="2.6"/><circle cx="405" cy="221" r="2.6"/><circle cx="405.5" cy="224" r="2.6"/><circle cx="405" cy="212.5" r="2.6"/></g>
<g fill="rgba(255,90,90,0.6)"><circle cx="414.5" cy="185.9" r="2.6"/><circle cx="416.4" cy="196.1" r="2.6"/><circle cx="415.1" cy="221.9" r="2.6"/><circle cx="393.1" cy="238.6" r="2.6"/><circle cx="399" cy="250.3" r="2.6"/><circle cx="416" cy="222.9" r="2.6"/><circle cx="438.9" cy="270" r="2.6"/><circle cx="446.7" cy="272.6" r="2.6"/><circle cx="448.7" cy="272.6" r="2.6"/><circle cx="446" cy="272.8" r="2.6"/><circle cx="449" cy="272.1" r="2.6"/><circle cx="399.3" cy="250.2" r="2.6"/><circle cx="393.7" cy="238.1" r="2.6"/><circle cx="447" cy="273" r="2.6"/><circle cx="450" cy="272.5" r="2.6"/><circle cx="452" cy="271" r="2.6"/><circle cx="414" cy="215" r="2.6"/><circle cx="416" cy="219.5" r="2.6"/><circle cx="414" cy="224" r="2.6"/></g>
<g fill="rgba(0,238,100,0.82)"><circle cx="318.5" cy="228.2" r="2.6"/><circle cx="349.1" cy="227.2" r="2.6"/><circle cx="350.1" cy="230.5" r="2.6"/><circle cx="362.2" cy="233.9" r="2.6"/><circle cx="372.3" cy="233.9" r="2.6"/><circle cx="330.8" cy="241.6" r="2.6"/><circle cx="339" cy="244.5" r="2.6"/><circle cx="340" cy="245.7" r="2.6"/><circle cx="343.7" cy="247" r="2.6"/><circle cx="360.6" cy="246.7" r="2.6"/><circle cx="377.4" cy="241.1" r="2.6"/><circle cx="324.9" cy="252.6" r="2.6"/><circle cx="337" cy="251.7" r="2.6"/><circle cx="336.2" cy="255.4" r="2.6"/><circle cx="338.4" cy="273.9" r="2.6"/><circle cx="350.1" cy="273.9" r="2.6"/><circle cx="363.1" cy="273.9" r="2.6"/><circle cx="367.3" cy="273.9" r="2.6"/><circle cx="382.4" cy="271.4" r="2.6"/><circle cx="383.3" cy="273.9" r="2.6"/><circle cx="488.2" cy="168.2" r="2.6"/><circle cx="499.3" cy="224.6" r="2.6"/><circle cx="509.7" cy="225.1" r="2.6"/><circle cx="383.3" cy="271.9" r="2.6"/><circle cx="394.4" cy="273.9" r="2.6"/><circle cx="406.8" cy="274.5" r="2.6"/><circle cx="415.3" cy="274.5" r="2.6"/><circle cx="428.4" cy="274.5" r="2.6"/><circle cx="431.7" cy="273.9" r="2.6"/><circle cx="387.2" cy="251.6" r="2.6"/><circle cx="412.1" cy="258.2" r="2.6"/><circle cx="416.6" cy="268.6" r="2.6"/><circle cx="499.5" cy="225" r="2.6"/><circle cx="509.5" cy="225.7" r="2.6"/><circle cx="492.3" cy="229.1" r="2.6"/><circle cx="499.4" cy="236.6" r="2.6"/><circle cx="475.6" cy="248.6" r="2.6"/><circle cx="456.4" cy="274.3" r="2.6"/><circle cx="460.9" cy="274.6" r="2.6"/><circle cx="467.7" cy="274" r="2.6"/></g>
<g fill="rgba(85,85,115,0.65)"><circle cx="389.2" cy="239.9" r="2.6"/><circle cx="420.4" cy="196.1" r="2.6"/><circle cx="394.2" cy="209.5" r="2.6"/><circle cx="426.3" cy="216.4" r="2.6"/><circle cx="426.4" cy="216.6" r="2.6"/><circle cx="389.8" cy="239.2" r="2.6"/><circle cx="423.8" cy="264.1" r="2.6"/><circle cx="417.9" cy="265.4" r="2.6"/><circle cx="424.5" cy="234.6" r="2.6"/><circle cx="400.9" cy="217" r="2.6"/><circle cx="449" cy="248.9" r="2.6"/><circle cx="461" cy="254.9" r="2.6"/><circle cx="459.4" cy="265.3" r="2.6"/><circle cx="463.2" cy="266.1" r="2.6"/><circle cx="449" cy="260.8" r="2.6"/><circle cx="423.6" cy="235.3" r="2.6"/><circle cx="390.9" cy="240" r="2.6"/><circle cx="459" cy="263" r="2.6"/><circle cx="461" cy="267" r="2.6"/><circle cx="458" cy="266" r="2.6"/><circle cx="460" cy="264" r="2.6"/></g>
<g fill="rgba(240,50,200,0.48)"><circle cx="407.7" cy="195.7" r="2.6"/><circle cx="422.3" cy="202.3" r="2.6"/><circle cx="420.4" cy="204.9" r="2.6"/><circle cx="400.7" cy="212.1" r="2.6"/><circle cx="422.3" cy="221.3" r="2.6"/><circle cx="416.4" cy="222.6" r="2.6"/><circle cx="407.5" cy="251.6" r="2.6"/><circle cx="407.5" cy="259.5" r="2.6"/><circle cx="408.1" cy="266.7" r="2.6"/><circle cx="423.2" cy="220.9" r="2.6"/><circle cx="416.6" cy="222.2" r="2.6"/><circle cx="421.9" cy="233.3" r="2.6"/><circle cx="445.4" cy="246.4" r="2.6"/><circle cx="446" cy="246.6" r="2.6"/><circle cx="455" cy="249.6" r="2.6"/><circle cx="454.2" cy="266.8" r="2.6"/><circle cx="408" cy="263" r="2.6"/><circle cx="408" cy="255" r="2.6"/><circle cx="407.8" cy="256" r="2.6"/><circle cx="408" cy="258.5" r="2.6"/><circle cx="408.2" cy="261.5" r="2.6"/><circle cx="408.5" cy="264.5" r="2.6"/><circle cx="408.3" cy="267" r="2.6"/><circle cx="405.4" cy="249.8" r="2.6"/><circle cx="420.8" cy="246.5" r="2.6"/><circle cx="420.8" cy="232.5" r="2.6"/><circle cx="453" cy="252" r="2.6"/><circle cx="455" cy="257" r="2.6"/><circle cx="456" cy="262" r="2.6"/><circle cx="454" cy="267" r="2.6"/><circle cx="452" cy="259" r="2.6"/></g>
<g fill="rgba(255,205,0,0.6)"><circle cx="397" cy="241.8" r="2.6"/><circle cx="410.1" cy="245.7" r="2.6"/><circle cx="435" cy="256.9" r="2.6"/><circle cx="435.6" cy="259.5" r="2.6"/><circle cx="473.6" cy="254.1" r="2.6"/><circle cx="472.1" cy="256.4" r="2.6"/><circle cx="474.4" cy="262.3" r="2.6"/><circle cx="472.1" cy="263.8" r="2.6"/><circle cx="463.9" cy="251.1" r="2.6"/><circle cx="420" cy="250" r="2.6"/><circle cx="428" cy="253" r="2.6"/><circle cx="396.5" cy="241.4" r="2.6"/><circle cx="409.6" cy="246" r="2.6"/><circle cx="434.9" cy="254.9" r="2.6"/><circle cx="435.8" cy="258.6" r="2.6"/><circle cx="404" cy="246.5" r="2.6"/><circle cx="414" cy="248.5" r="2.6"/><circle cx="426" cy="252" r="2.6"/><circle cx="432" cy="254" r="2.6"/><circle cx="438" cy="257" r="2.6"/><circle cx="473" cy="261" r="2.6"/><circle cx="474" cy="264" r="2.6"/><circle cx="471" cy="259" r="2.6"/></g>
<g fill="rgba(40,135,75,0.6)"><circle cx="386.6" cy="251.7" r="2.6"/><circle cx="388.3" cy="258.8" r="2.6"/><circle cx="396.2" cy="172.6" r="2.6"/><circle cx="395.5" cy="188.8" r="2.6"/><circle cx="420.4" cy="188.9" r="2.6"/><circle cx="415.8" cy="208.8" r="2.6"/><circle cx="419.1" cy="209.5" r="2.6"/><circle cx="400.1" cy="217.3" r="2.6"/><circle cx="394.9" cy="223.9" r="2.6"/><circle cx="389.2" cy="258.8" r="2.6"/><circle cx="395" cy="224.2" r="2.6"/><circle cx="416.6" cy="264.7" r="2.6"/><circle cx="419.3" cy="265.4" r="2.6"/><circle cx="421.2" cy="270" r="2.6"/><circle cx="395.7" cy="270" r="2.6"/><circle cx="448" cy="258.2" r="2.6"/><circle cx="447.4" cy="248.4" r="2.6"/><circle cx="447.5" cy="259.3" r="2.6"/><circle cx="451.2" cy="262.3" r="2.6"/></g>
<g fill="rgba(175,175,255,0.6)"><circle cx="404.7" cy="206.9" r="2.6"/><circle cx="453.7" cy="215" r="2.6"/><circle cx="404.2" cy="243.8" r="2.6"/><circle cx="419.3" cy="258.8" r="2.6"/><circle cx="402.9" cy="268" r="2.6"/><circle cx="440.8" cy="227.4" r="2.6"/><circle cx="453.8" cy="214.8" r="2.6"/><circle cx="455" cy="228.7" r="2.6"/><circle cx="452" cy="233.6" r="2.6"/><circle cx="458" cy="245.9" r="2.6"/><circle cx="452.7" cy="243.6" r="2.6"/><circle cx="403.6" cy="243.7" r="2.6"/><circle cx="418" cy="258.6" r="2.6"/></g>
<line x1="376.5" y1="243.3" x2="446.4" y2="193.6" stroke="#0000ff" stroke-width="1.9"/>
<line x1="393.1" y1="232" x2="451.5" y2="270.8" stroke="#ff0000" stroke-width="1.9"/>
<line x1="317.7" y1="257.4" x2="510.3" y2="248.6" stroke="#00ff00" stroke-width="1.9"/>
<line x1="387.2" y1="230.7" x2="463.9" y2="262.3" stroke="#000033" stroke-width="1.9"/>
<line x1="397" y1="230.7" x2="457" y2="266" stroke="#ff00cc" stroke-width="1.9"/>
<line x1="395.7" y1="245.1" x2="473.6" y2="260.1" stroke="#ffcc00" stroke-width="1.9"/>
<line x1="394.2" y1="217.3" x2="452.4" y2="262.4" stroke="#006600" stroke-width="1.9"/>
<line x1="403.6" y1="236.6" x2="458.7" y2="241.4" stroke="#8080ff" stroke-width="1.9"/>
<path d="M306.5 168.2V275.2H519.1" stroke="#808080" stroke-width="1" fill="none"/>
<path d="M306.5 275.2v-2M341.9 275.2v-2M377.4 275.2v-2M412.8 275.2v-2M448.2 275.2v-2M483.7 275.2v-2M519.1 275.2v-2M306.5 275.2h2M306.5 253.8h2M306.5 232.4h2M306.5 211h2M306.5 189.6h2M306.5 168.2h2" stroke="#808080" stroke-width="0.8" fill="none"/>
<text x="306.5" y="284.6" text-anchor="middle" class="tk">0</text>
<text x="341.9" y="284.6" text-anchor="middle" class="tk">2</text>
<text x="377.4" y="284.6" text-anchor="middle" class="tk">4</text>
<text x="412.8" y="284.6" text-anchor="middle" class="tk">6</text>
<text x="448.2" y="284.6" text-anchor="middle" class="tk">8</text>
<text x="483.7" y="284.6" text-anchor="middle" class="tk">10</text>
<text x="519.1" y="284.6" text-anchor="middle" class="tk">12</text>
<text x="303.9" y="277.9" text-anchor="end" class="tk">0</text>
<text x="303.9" y="256.5" text-anchor="end" class="tk">0.2</text>
<text x="303.9" y="235.1" text-anchor="end" class="tk">0.4</text>
<text x="303.9" y="213.7" text-anchor="end" class="tk">0.6</text>
<text x="303.9" y="192.3" text-anchor="end" class="tk">0.8</text>
<text x="303.9" y="170.9" text-anchor="end" class="tk">1</text>
<text x="412.8" y="163.2" text-anchor="middle" class="ti">Subject 4</text>
<text x="412.8" y="296.3" text-anchor="middle" class="lb">Force (Newtons)</text>
<text transform="translate(277.9 221.7) rotate(-90)" text-anchor="middle" class="lb"><tspan x="0" y="0">Total Noise Power Normalized by the</tspan><tspan x="0" y="12.3">Total Signal Power (No Units)</tspan></text>
<path d="M59.1 317.2V423.3M67.6 317.2V423.3M76.1 317.2V423.3M84.5 317.2V423.3M93 317.2V423.3M101.5 317.2V423.3M110 317.2V423.3M118.5 317.2V423.3M127 317.2V423.3M135.4 317.2V423.3M143.9 317.2V423.3M152.4 317.2V423.3M160.9 317.2V423.3M169.4 317.2V423.3M177.9 317.2V423.3M186.3 317.2V423.3M194.8 317.2V423.3M203.3 317.2V423.3M211.8 317.2V423.3M220.3 317.2V423.3M228.8 317.2V423.3M237.2 317.2V423.3M245.7 317.2V423.3M254.2 317.2V423.3M50.6 418H262.7M50.6 412.7H262.7M50.6 407.4H262.7M50.6 402.1H262.7M50.6 396.8H262.7M50.6 391.5H262.7M50.6 386.2H262.7M50.6 380.9H262.7M50.6 375.6H262.7M50.6 370.2H262.7M50.6 364.9H262.7M50.6 359.6H262.7M50.6 354.3H262.7M50.6 349H262.7M50.6 343.7H262.7M50.6 338.4H262.7M50.6 333.1H262.7M50.6 327.8H262.7M50.6 322.5H262.7" stroke="#f7f7f7" stroke-width="0.5" fill="none"/>
<path d="M93 317.2V423.3M135.4 317.2V423.3M177.9 317.2V423.3M220.3 317.2V423.3M50.6 402.1H262.7M50.6 380.9H262.7M50.6 359.6H262.7M50.6 338.4H262.7" stroke="#efefef" stroke-width="0.6" fill="none"/>
<path d="M50.6 317.2H262.7V423.3" stroke="#ececec" stroke-width="0.8" fill="none"/>
<g fill="rgba(110,110,240,0.6)"><circle cx="136.1" cy="345.5" r="2.6"/><circle cx="148" cy="378" r="2.6"/><circle cx="125.5" cy="408" r="2.6"/><circle cx="128" cy="409" r="2.6"/><circle cx="133" cy="408.5" r="2.6"/><circle cx="136" cy="410.5" r="2.6"/><circle cx="129" cy="411.5" r="2.6"/><circle cx="146" cy="380" r="2.6"/><circle cx="152" cy="378" r="2.6"/><circle cx="135.3" cy="403.4" r="2.6"/><circle cx="126.4" cy="410.1" r="2.6"/><circle cx="130.8" cy="410.1" r="2.6"/><circle cx="124.9" cy="414.6" r="2.6"/><circle cx="133.1" cy="420.6" r="2.6"/><circle cx="142.8" cy="420.6" r="2.6"/><circle cx="147.3" cy="419.8" r="2.6"/><circle cx="153.3" cy="421.3" r="2.6"/></g>
<g fill="rgba(255,90,90,0.6)"><circle cx="124.9" cy="390.7" r="2.6"/><circle cx="129.3" cy="393.6" r="2.6"/><circle cx="139.8" cy="392.1" r="2.6"/><circle cx="144.3" cy="392.9" r="2.6"/><circle cx="142.1" cy="399.6" r="2.6"/><circle cx="156.3" cy="389.2" r="2.6"/><circle cx="159.2" cy="389.4" r="2.6"/><circle cx="167.6" cy="388.7" r="2.6"/><circle cx="169" cy="391.5" r="2.6"/><circle cx="134" cy="392" r="2.6"/><circle cx="150" cy="391" r="2.6"/><circle cx="126" cy="394" r="2.6"/><circle cx="128" cy="397" r="2.6"/><circle cx="131" cy="391" r="2.6"/><circle cx="137" cy="394" r="2.6"/><circle cx="140" cy="390.5" r="2.6"/><circle cx="142" cy="395" r="2.6"/><circle cx="146" cy="391" r="2.6"/><circle cx="148" cy="393.5" r="2.6"/><circle cx="154" cy="390" r="2.6"/><circle cx="161" cy="391" r="2.6"/><circle cx="164" cy="390" r="2.6"/><circle cx="127" cy="389" r="2.6"/><circle cx="142" cy="398" r="2.6"/><circle cx="166" cy="389" r="2.6"/><circle cx="169" cy="390.5" r="2.6"/><circle cx="163" cy="392" r="2.6"/></g>
<g fill="rgba(0,238,100,0.82)"><circle cx="103.2" cy="360.1" r="2.6"/><circle cx="208" cy="324.3" r="2.6"/><circle cx="216.4" cy="338" r="2.6"/><circle cx="198.5" cy="343.4" r="2.6"/><circle cx="194" cy="346.7" r="2.6"/><circle cx="229.3" cy="352.8" r="2.6"/><circle cx="225.8" cy="368.9" r="2.6"/><circle cx="234.6" cy="317.1" r="2.6"/><circle cx="238.4" cy="328.3" r="2.6"/><circle cx="234.6" cy="331.6" r="2.6"/><circle cx="237.8" cy="333.8" r="2.6"/><circle cx="243.3" cy="335.1" r="2.6"/><circle cx="216.5" cy="338.2" r="2.6"/><circle cx="232.4" cy="339.2" r="2.6"/><circle cx="241.6" cy="341.6" r="2.6"/><circle cx="240.6" cy="349.3" r="2.6"/><circle cx="230.7" cy="352.6" r="2.6"/><circle cx="234.6" cy="352" r="2.6"/><circle cx="232.9" cy="356.9" r="2.6"/><circle cx="242.7" cy="354.7" r="2.6"/><circle cx="237.8" cy="360.7" r="2.6"/><circle cx="231.8" cy="364.6" r="2.6"/><circle cx="85.2" cy="422.8" r="2.6"/><circle cx="157" cy="376.4" r="2.6"/><circle cx="157.5" cy="376.8" r="2.6"/><circle cx="204.8" cy="394.8" r="2.6"/><circle cx="198.7" cy="407.4" r="2.6"/><circle cx="169.7" cy="409.8" r="2.6"/><circle cx="218.8" cy="408.4" r="2.6"/><circle cx="223.7" cy="410.2" r="2.6"/><circle cx="229.3" cy="409.1" r="2.6"/><circle cx="225.8" cy="369.1" r="2.6"/><circle cx="218.4" cy="408.2" r="2.6"/><circle cx="224" cy="410.1" r="2.6"/><circle cx="230" cy="409" r="2.6"/><circle cx="239.7" cy="410.7" r="2.6"/><circle cx="240.8" cy="411.8" r="2.6"/><circle cx="242.5" cy="413" r="2.6"/><circle cx="245.3" cy="417.4" r="2.6"/><circle cx="240.3" cy="411.3" r="2.6"/><circle cx="231" cy="353" r="2.6"/><circle cx="243.1" cy="355.1" r="2.6"/><circle cx="238.3" cy="360.9" r="2.6"/><circle cx="235" cy="377" r="2.6"/><circle cx="235.2" cy="384.6" r="2.6"/><circle cx="204.9" cy="394.7" r="2.6"/></g>
<g fill="rgba(85,85,115,0.65)"><circle cx="136.1" cy="317.2" r="2.6"/><circle cx="137.1" cy="328.2" r="2.6"/><circle cx="139.1" cy="333.2" r="2.6"/><circle cx="151" cy="332.7" r="2.6"/><circle cx="157" cy="341.4" r="2.6"/><circle cx="153.3" cy="345.6" r="2.6"/><circle cx="124.9" cy="349.6" r="2.6"/><circle cx="127.9" cy="349.6" r="2.6"/><circle cx="138.3" cy="354.6" r="2.6"/><circle cx="148" cy="354.1" r="2.6"/><circle cx="124.9" cy="368.3" r="2.6"/><circle cx="157.1" cy="341.5" r="2.6"/><circle cx="124.9" cy="369" r="2.6"/><circle cx="138.3" cy="373.5" r="2.6"/><circle cx="150.3" cy="375" r="2.6"/><circle cx="132.3" cy="378" r="2.6"/><circle cx="138.3" cy="380.9" r="2.6"/></g>
<g fill="rgba(240,50,200,0.48)"><circle cx="127.1" cy="339.6" r="2.6"/><circle cx="134.6" cy="337.7" r="2.6"/><circle cx="136.1" cy="345.9" r="2.6"/><circle cx="135.3" cy="353.4" r="2.6"/><circle cx="154" cy="351.9" r="2.6"/><circle cx="129.3" cy="360.8" r="2.6"/><circle cx="133.8" cy="361.6" r="2.6"/><circle cx="132.3" cy="366.8" r="2.6"/><circle cx="136.1" cy="345.1" r="2.6"/><circle cx="176.7" cy="359.1" r="2.6"/><circle cx="171.8" cy="362.6" r="2.6"/><circle cx="174.6" cy="365.4" r="2.6"/><circle cx="169" cy="366.8" r="2.6"/><circle cx="133.1" cy="363" r="2.6"/><circle cx="154.8" cy="371.2" r="2.6"/><circle cx="173.2" cy="361.4" r="2.6"/><circle cx="176" cy="365.6" r="2.6"/><circle cx="169" cy="367.7" r="2.6"/><circle cx="132" cy="358" r="2.6"/><circle cx="134" cy="360" r="2.6"/><circle cx="131" cy="363" r="2.6"/><circle cx="135" cy="364.5" r="2.6"/><circle cx="133" cy="367" r="2.6"/><circle cx="136" cy="357" r="2.6"/><circle cx="134" cy="355" r="2.6"/></g>
<g fill="rgba(255,205,0,0.6)"><circle cx="144.3" cy="414.6" r="2.6"/><circle cx="156.3" cy="411.6" r="2.6"/><circle cx="157.8" cy="414.6" r="2.6"/><circle cx="156.4" cy="414" r="2.6"/><circle cx="163.4" cy="414.7" r="2.6"/><circle cx="181.6" cy="414" r="2.6"/><circle cx="180.9" cy="415.4" r="2.6"/><circle cx="110" cy="413" r="2.6"/><circle cx="130" cy="414" r="2.6"/></g>
<g fill="rgba(40,135,75,0.6)"><circle cx="145" cy="362.3" r="2.6"/><circle cx="124.9" cy="375.7" r="2.6"/><circle cx="149.5" cy="372.7" r="2.6"/><circle cx="118.1" cy="395.6" r="2.6"/><circle cx="127.1" cy="396.6" r="2.6"/><circle cx="153.3" cy="401.9" r="2.6"/><circle cx="145" cy="374.2" r="2.6"/><circle cx="176.7" cy="403.5" r="2.6"/><circle cx="178.1" cy="406.3" r="2.6"/><circle cx="178.8" cy="409.1" r="2.6"/></g>
<g fill="rgba(175,175,255,0.6)"><circle cx="145" cy="352.6" r="2.6"/><circle cx="148" cy="359.3" r="2.6"/><circle cx="117.4" cy="368.3" r="2.6"/><circle cx="180.9" cy="365.4" r="2.6"/><circle cx="117.4" cy="369" r="2.6"/><circle cx="102.4" cy="407.9" r="2.6"/><circle cx="118.1" cy="389.9" r="2.6"/><circle cx="132.3" cy="400.4" r="2.6"/><circle cx="145.8" cy="395.9" r="2.6"/><circle cx="147.3" cy="376.4" r="2.6"/><circle cx="180.9" cy="365.6" r="2.6"/><circle cx="160.6" cy="373.3" r="2.6"/><circle cx="176.7" cy="388" r="2.6"/><circle cx="181.6" cy="388.7" r="2.6"/><circle cx="163.4" cy="402.8" r="2.6"/><circle cx="180.9" cy="397.2" r="2.6"/></g>
<line x1="123.4" y1="411.6" x2="162" y2="420.3" stroke="#0000ff" stroke-width="1.9"/>
<line x1="124.9" y1="391.4" x2="170" y2="392" stroke="#ff0000" stroke-width="1.9"/>
<line x1="85.2" y1="391.1" x2="246.2" y2="368.2" stroke="#00ff00" stroke-width="1.9"/>
<line x1="124.1" y1="373.5" x2="158.5" y2="366.7" stroke="#000033" stroke-width="1.9"/>
<line x1="127.9" y1="357.9" x2="176" y2="366.8" stroke="#ff00cc" stroke-width="1.9"/>
<line x1="98.7" y1="413.1" x2="183" y2="414.4" stroke="#ffcc00" stroke-width="1.9"/>
<line x1="118.1" y1="377.2" x2="180.9" y2="399.3" stroke="#006600" stroke-width="1.9"/>
<line x1="102.4" y1="384.4" x2="182.3" y2="384.5" stroke="#8080ff" stroke-width="1.9"/>
<path d="M50.6 317.2V423.3H262.7" stroke="#808080" stroke-width="1" fill="none"/>
<path d="M50.6 423.3v-2M93 423.3v-2M135.4 423.3v-2M177.9 423.3v-2M220.3 423.3v-2M262.7 423.3v-2M50.6 423.3h2M50.6 402.1h2M50.6 380.9h2M50.6 359.6h2M50.6 338.4h2M50.6 317.2h2" stroke="#808080" stroke-width="0.8" fill="none"/>
<text x="50.6" y="432.7" text-anchor="middle" class="tk">2</text>
<text x="93" y="432.7" text-anchor="middle" class="tk">4</text>
<text x="135.4" y="432.7" text-anchor="middle" class="tk">6</text>
<text x="177.9" y="432.7" text-anchor="middle" class="tk">8</text>
<text x="220.3" y="432.7" text-anchor="middle" class="tk">10</text>
<text x="262.7" y="432.7" text-anchor="middle" class="tk">12</text>
<text x="48" y="426" text-anchor="end" class="tk">0</text>
<text x="48" y="404.8" text-anchor="end" class="tk">0.2</text>
<text x="48" y="383.6" text-anchor="end" class="tk">0.4</text>
<text x="48" y="362.3" text-anchor="end" class="tk">0.6</text>
<text x="48" y="341.1" text-anchor="end" class="tk">0.8</text>
<text x="48" y="319.9" text-anchor="end" class="tk">1</text>
<text x="156.7" y="312.2" text-anchor="middle" class="ti">Subject 5</text>
<text x="156.7" y="444.4" text-anchor="middle" class="lb">Force (Newtons)</text>
<text transform="translate(22 370.2) rotate(-90)" text-anchor="middle" class="lb"><tspan x="0" y="0">Total Noise Power Normalized by the</tspan><tspan x="0" y="12.3">Total Signal Power (No Units)</tspan></text>
<defs><clipPath id="lc"><rect x="270" y="300" width="252" height="120"/></clipPath></defs>
<g clip-path="url(#lc)">
<path d="M521 318.8H277.3V410.3H521" fill="#fff" stroke="#a0a0a0" stroke-width="1"/>
<circle cx="290.7" cy="325" r="2.3" fill="rgba(110,110,240,0.6)"/>
<text x="304" y="327.1" class="lg">Bend forward stand up</text>
<line x1="279.7" y1="336.6" x2="301.6" y2="336.6" stroke="#0000ff" stroke-width="1.6"/>
<text x="304" y="337.8" class="lg">Fit line Bend forward stand up</text>
<circle cx="290.7" cy="347.3" r="2.3" fill="rgba(255,90,90,0.6)"/>
<text x="304" y="349.4" class="lg">Left Lateral</text>
<line x1="279.7" y1="359" x2="301.6" y2="359" stroke="#ff0000" stroke-width="1.6"/>
<text x="304" y="360.2" class="lg">Fit line Left Lateral</text>
<circle cx="290.7" cy="369.4" r="2.3" fill="rgba(0,238,100,0.82)"/>
<text x="304" y="371.5" class="lg">Prone</text>
<line x1="279.7" y1="381.6" x2="301.6" y2="381.6" stroke="#00ff00" stroke-width="1.6"/>
<text x="304" y="382.8" class="lg">Fit line Prone</text>
<circle cx="290.7" cy="391.8" r="2.3" fill="rgba(85,85,115,0.65)"/>
<text x="304" y="393.9" class="lg">Read paragraph</text>
<line x1="279.7" y1="403.4" x2="301.6" y2="403.4" stroke="#000033" stroke-width="1.6"/>
<text x="304" y="404.6" class="lg">Fit line Read paragraph</text>
<circle cx="424.5" cy="325" r="2.3" fill="rgba(240,50,200,0.48)"/>
<text x="437.9" y="327.1" class="lg">Right Lateral</text>
<line x1="413" y1="336.6" x2="436" y2="336.6" stroke="#ff00cc" stroke-width="1.6"/>
<text x="437.9" y="337.8" class="lg">Fit line Right Lateral</text>
<circle cx="424.5" cy="347.3" r="2.3" fill="rgba(255,205,0,0.6)"/>
<text x="437.9" y="349.4" class="lg">Supine</text>
<line x1="413" y1="359" x2="436" y2="359" stroke="#ffcc00" stroke-width="1.6"/>
<text x="437.9" y="360.2" class="lg">Fit line Supine</text>
<circle cx="424.5" cy="369.4" r="2.3" fill="rgba(40,135,75,0.6)"/>
<text x="437.9" y="371.5" class="lg">Upper body twist</text>
<line x1="413" y1="381.6" x2="436" y2="381.6" stroke="#006600" stroke-width="1.6"/>
<text x="437.9" y="382.8" class="lg">Fit line Upper body twist</text>
<circle cx="424.5" cy="391.8" r="2.3" fill="rgba(175,175,255,0.6)"/>
<text x="437.9" y="393.9" class="lg">Walk in a circle</text>
<line x1="413" y1="403.4" x2="436" y2="403.4" stroke="#8080ff" stroke-width="1.6"/>
<text x="437.9" y="404.6" class="lg">Fit line Walk in a circle</text>
</g>
<rect x="6.9" y="455.5" width="521.9" height="29.69999999999999" fill="#fff"/>
<rect x="6.9" y="485.2" width="31.5" height="12.0" fill="#fff"/>
<rect x="38.4" y="485.2" width="48.9" height="12" fill="#66d240"/>
<text x="62.8" y="494" text-anchor="middle" class="tv">0.0887</text>
<rect x="87.3" y="485.2" width="47.7" height="12" fill="#66d240"/>
<text x="111.2" y="494" text-anchor="middle" class="tv">0.1164</text>
<rect x="135" y="485.2" width="29.9" height="12" fill="#66d240"/>
<text x="149.9" y="494" text-anchor="middle" class="tv">0.0745</text>
<rect x="164.9" y="485.2" width="32" height="12" fill="#f75e5e"/>
<text x="180.9" y="494" text-anchor="middle" class="tv">−0.0043</text>
<rect x="196.9" y="485.2" width="41.5" height="12" fill="#66d240"/>
<text x="217.7" y="494" text-anchor="middle" class="tv">0.1690</text>
<rect x="238.4" y="485.2" width="29.8" height="12" fill="#f75e5e"/>
<text x="253.3" y="494" text-anchor="middle" class="tv">−0.0049</text>
<rect x="268.2" y="485.2" width="33.6" height="12" fill="#66d240"/>
<text x="285" y="494" text-anchor="middle" class="tv">0.0369</text>
<rect x="301.8" y="485.2" width="36.4" height="12" fill="#66d240"/>
<text x="320" y="494" text-anchor="middle" class="tv">0.1009</text>
<rect x="338.2" y="485.2" width="38.1" height="12" fill="#66d240"/>
<text x="357.2" y="494" text-anchor="middle" class="tv">0.1558</text>
<rect x="376.3" y="485.2" width="42.1" height="12" fill="#66d240"/>
<text x="397.4" y="494" text-anchor="middle" class="tv">0.1803</text>
<rect x="418.4" y="485.2" width="33.9" height="12" fill="#66d240"/>
<text x="435.4" y="494" text-anchor="middle" class="tv">0.0114</text>
<rect x="452.3" y="485.2" width="38.1" height="12" fill="#66d240"/>
<text x="471.4" y="494" text-anchor="middle" class="tv">0.0325</text>
<rect x="490.4" y="485.2" width="38.4" height="12" fill="#66d240"/>
<text x="509.6" y="494" text-anchor="middle" class="tv">0.0493</text>
<text x="22.6" y="494.1" text-anchor="middle" class="tb">1</text>
<rect x="6.9" y="497.2" width="31.5" height="11.199999999999989" fill="#fff"/>
<rect x="38.4" y="497.2" width="48.9" height="11.2" fill="#66d240"/>
<text x="62.8" y="506" text-anchor="middle" class="tv">0.2367</text>
<rect x="87.3" y="497.2" width="47.7" height="11.2" fill="#f75e5e"/>
<text x="111.2" y="506" text-anchor="middle" class="tv">−0.0588</text>
<rect x="135" y="497.2" width="29.9" height="11.2" fill="#66d240"/>
<text x="149.9" y="506" text-anchor="middle" class="tv">0.1029</text>
<rect x="164.9" y="497.2" width="32" height="11.2" fill="#66d240"/>
<text x="180.9" y="506" text-anchor="middle" class="tv">0.0126</text>
<rect x="196.9" y="497.2" width="41.5" height="11.2" fill="#66d240"/>
<text x="217.7" y="506" text-anchor="middle" class="tv">0.2567</text>
<rect x="238.4" y="497.2" width="29.8" height="11.2" fill="#66d240"/>
<text x="253.3" y="506" text-anchor="middle" class="tv">0.2260</text>
<rect x="268.2" y="497.2" width="33.6" height="11.2" fill="#66d240"/>
<text x="285" y="506" text-anchor="middle" class="tv">0.2794</text>
<rect x="301.8" y="497.2" width="36.4" height="11.2" fill="#66d240"/>
<text x="320" y="506" text-anchor="middle" class="tv">0.2274</text>
<rect x="338.2" y="497.2" width="38.1" height="11.2" fill="#66d240"/>
<text x="357.2" y="506" text-anchor="middle" class="tv">0.3133</text>
<rect x="376.3" y="497.2" width="42.1" height="11.2" fill="#66d240"/>
<text x="397.4" y="506" text-anchor="middle" class="tv">0.3372</text>
<rect x="418.4" y="497.2" width="33.9" height="11.2" fill="#66d240"/>
<text x="435.4" y="506" text-anchor="middle" class="tv">0.0674</text>
<rect x="452.3" y="497.2" width="38.1" height="11.2" fill="#f75e5e"/>
<text x="471.4" y="506" text-anchor="middle" class="tv">−0.0373</text>
<rect x="490.4" y="497.2" width="38.4" height="11.2" fill="#66d240"/>
<text x="509.6" y="506" text-anchor="middle" class="tv">0.2269</text>
<text x="22.6" y="506.1" text-anchor="middle" class="tb">2</text>
<rect x="6.9" y="508.4" width="31.5" height="11.5" fill="#fff"/>
<rect x="38.4" y="508.4" width="48.9" height="11.5" fill="#f75e5e"/>
<text x="62.8" y="517.2" text-anchor="middle" class="tv">−0.1452</text>
<rect x="87.3" y="508.4" width="47.7" height="11.5" fill="#66d240"/>
<text x="111.2" y="517.2" text-anchor="middle" class="tv">1.1214</text>
<rect x="135" y="508.4" width="29.9" height="11.5" fill="#f75e5e"/>
<text x="149.9" y="517.2" text-anchor="middle" class="tv">−0.1446</text>
<rect x="164.9" y="508.4" width="32" height="11.5" fill="#f75e5e"/>
<text x="180.9" y="517.2" text-anchor="middle" class="tv">−0.0094</text>
<rect x="196.9" y="508.4" width="41.5" height="11.5" fill="#f75e5e"/>
<text x="217.7" y="517.2" text-anchor="middle" class="tv">−0.0121</text>
<rect x="238.4" y="508.4" width="29.8" height="11.5" fill="#66d240"/>
<text x="253.3" y="517.2" text-anchor="middle" class="tv">0.1196</text>
<rect x="268.2" y="508.4" width="33.6" height="11.5" fill="#66d240"/>
<text x="285" y="517.2" text-anchor="middle" class="tv">0.8854</text>
<rect x="301.8" y="508.4" width="36.4" height="11.5" fill="#66d240"/>
<text x="320" y="517.2" text-anchor="middle" class="tv">0.3255</text>
<rect x="338.2" y="508.4" width="38.1" height="11.5" fill="#66d240"/>
<text x="357.2" y="517.2" text-anchor="middle" class="tv">0.4188</text>
<rect x="376.3" y="508.4" width="42.1" height="11.5" fill="#66d240"/>
<text x="397.4" y="517.2" text-anchor="middle" class="tv">0.4274</text>
<rect x="418.4" y="508.4" width="33.9" height="11.5" fill="#f75e5e"/>
<text x="435.4" y="517.2" text-anchor="middle" class="tv">−0.1219</text>
<rect x="452.3" y="508.4" width="38.1" height="11.5" fill="#66d240"/>
<text x="471.4" y="517.2" text-anchor="middle" class="tv">0.4693</text>
<rect x="490.4" y="508.4" width="38.4" height="11.5" fill="#66d240"/>
<text x="509.6" y="517.2" text-anchor="middle" class="tv">0.4219</text>
<text x="22.6" y="517.3" text-anchor="middle" class="tb">3</text>
<rect x="6.9" y="519.9" width="31.5" height="11.700000000000045" fill="#fff"/>
<rect x="38.4" y="519.9" width="48.9" height="11.7" fill="#66d240"/>
<text x="62.8" y="528.7" text-anchor="middle" class="tv">0.1005</text>
<rect x="87.3" y="519.9" width="47.7" height="11.7" fill="#66d240"/>
<text x="111.2" y="528.7" text-anchor="middle" class="tv">0.1574</text>
<rect x="135" y="519.9" width="29.9" height="11.7" fill="#66d240"/>
<text x="149.9" y="528.7" text-anchor="middle" class="tv">0.0133</text>
<rect x="164.9" y="519.9" width="32" height="11.7" fill="#f75e5e"/>
<text x="180.9" y="528.7" text-anchor="middle" class="tv">−0.0148</text>
<rect x="196.9" y="519.9" width="41.5" height="11.7" fill="#66d240"/>
<text x="217.7" y="528.7" text-anchor="middle" class="tv">0.0818</text>
<rect x="238.4" y="519.9" width="29.8" height="11.7" fill="#66d240"/>
<text x="253.3" y="528.7" text-anchor="middle" class="tv">0.0657</text>
<rect x="268.2" y="519.9" width="33.6" height="11.7" fill="#66d240"/>
<text x="285" y="528.7" text-anchor="middle" class="tv">0.0670</text>
<rect x="301.8" y="519.9" width="36.4" height="11.7" fill="#66d240"/>
<text x="320" y="528.7" text-anchor="middle" class="tv">0.0526</text>
<rect x="338.2" y="519.9" width="38.1" height="11.7" fill="#66d240"/>
<text x="357.2" y="528.7" text-anchor="middle" class="tv">0.0894</text>
<rect x="376.3" y="519.9" width="42.1" height="11.7" fill="#66d240"/>
<text x="397.4" y="528.7" text-anchor="middle" class="tv">0.1336</text>
<rect x="418.4" y="519.9" width="33.9" height="11.7" fill="#66d240"/>
<text x="435.4" y="528.7" text-anchor="middle" class="tv">0.0568</text>
<rect x="452.3" y="519.9" width="38.1" height="11.7" fill="#66d240"/>
<text x="471.4" y="528.7" text-anchor="middle" class="tv">0.0685</text>
<rect x="490.4" y="519.9" width="38.4" height="11.7" fill="#66d240"/>
<text x="509.6" y="528.7" text-anchor="middle" class="tv">0.0811</text>
<text x="22.6" y="528.8" text-anchor="middle" class="tb">4</text>
<rect x="6.9" y="531.6" width="31.5" height="11.699999999999932" fill="#fff"/>
<rect x="38.4" y="531.6" width="48.9" height="11.7" fill="#66d240"/>
<text x="62.8" y="540.4" text-anchor="middle" class="tv">0.1622</text>
<rect x="87.3" y="531.6" width="47.7" height="11.7" fill="#66d240"/>
<text x="111.2" y="540.4" text-anchor="middle" class="tv">0.1727</text>
<rect x="135" y="531.6" width="29.9" height="11.7" fill="#66d240"/>
<text x="149.9" y="540.4" text-anchor="middle" class="tv">0.1556</text>
<rect x="164.9" y="531.6" width="32" height="11.7" fill="#f75e5e"/>
<text x="180.9" y="540.4" text-anchor="middle" class="tv">−0.0053</text>
<rect x="196.9" y="531.6" width="41.5" height="11.7" fill="#66d240"/>
<text x="217.7" y="540.4" text-anchor="middle" class="tv">0.0589</text>
<rect x="238.4" y="531.6" width="29.8" height="11.7" fill="#66d240"/>
<text x="253.3" y="540.4" text-anchor="middle" class="tv">0.2009</text>
<rect x="268.2" y="531.6" width="33.6" height="11.7" fill="#66d240"/>
<text x="285" y="540.4" text-anchor="middle" class="tv">0.0723</text>
<rect x="301.8" y="531.6" width="36.4" height="11.7" fill="#66d240"/>
<text x="320" y="540.4" text-anchor="middle" class="tv">0.0585</text>
<rect x="338.2" y="531.6" width="38.1" height="11.7" fill="#66d240"/>
<text x="357.2" y="540.4" text-anchor="middle" class="tv">0.0440</text>
<rect x="376.3" y="531.6" width="42.1" height="11.7" fill="#66d240"/>
<text x="397.4" y="540.4" text-anchor="middle" class="tv">0.0951</text>
<rect x="418.4" y="531.6" width="33.9" height="11.7" fill="#66d240"/>
<text x="435.4" y="540.4" text-anchor="middle" class="tv">0.0577</text>
<rect x="452.3" y="531.6" width="38.1" height="11.7" fill="#66d240"/>
<text x="471.4" y="540.4" text-anchor="middle" class="tv">0.1795</text>
<rect x="490.4" y="531.6" width="38.4" height="11.7" fill="#66d240"/>
<text x="509.6" y="540.4" text-anchor="middle" class="tv">0.1458</text>
<text x="22.6" y="540.5" text-anchor="middle" class="tb">5</text>
<text x="22.6" y="473.4" text-anchor="middle" class="tsub">Subject</text>
<text x="62.8" y="463.8" text-anchor="middle" class="th">Arms up</text>
<text x="62.8" y="473.4" text-anchor="middle" class="th">down, side</text>
<text x="62.8" y="482.9" text-anchor="middle" class="th">to side</text>
<text x="111.2" y="463.8" text-anchor="middle" class="th">Bend</text>
<text x="111.2" y="473.4" text-anchor="middle" class="th">Forward</text>
<text x="111.2" y="482.9" text-anchor="middle" class="th">Stand up</text>
<text x="149.9" y="468.6" text-anchor="middle" class="th">Left</text>
<text x="149.9" y="478.2" text-anchor="middle" class="th" textLength="25.4" lengthAdjust="spacingAndGlyphs">Lateral</text>
<text x="180.9" y="473.4" text-anchor="middle" class="th">Prone</text>
<text x="217.7" y="468.6" text-anchor="middle" class="th">Read</text>
<text x="217.7" y="478.2" text-anchor="middle" class="th" textLength="37" lengthAdjust="spacingAndGlyphs">Paragraph</text>
<text x="253.3" y="468.6" text-anchor="middle" class="th">Right</text>
<text x="253.3" y="478.2" text-anchor="middle" class="th" textLength="25.3" lengthAdjust="spacingAndGlyphs">Lateral</text>
<text x="285" y="468.6" text-anchor="middle" class="th">Stand</text>
<text x="285" y="478.2" text-anchor="middle" class="th">Still 1</text>
<text x="320" y="468.6" text-anchor="middle" class="th">Stand</text>
<text x="320" y="478.2" text-anchor="middle" class="th">Still 2</text>
<text x="357.2" y="468.6" text-anchor="middle" class="th">Stand</text>
<text x="357.2" y="478.2" text-anchor="middle" class="th">Still 3</text>
<text x="397.4" y="468.6" text-anchor="middle" class="th" textLength="37.6" lengthAdjust="spacingAndGlyphs">Stand Still</text>
<text x="397.4" y="478.2" text-anchor="middle" class="th">4</text>
<text x="435.4" y="473.4" text-anchor="middle" class="th">Supine</text>
<text x="471.4" y="463.8" text-anchor="middle" class="th">Upper</text>
<text x="471.4" y="473.4" text-anchor="middle" class="th">body</text>
<text x="471.4" y="482.9" text-anchor="middle" class="th">twist</text>
<text x="509.6" y="468.6" text-anchor="middle" class="th" textLength="33.9" lengthAdjust="spacingAndGlyphs">Walk in a</text>
<text x="509.6" y="478.2" text-anchor="middle" class="th">circle</text>
<path d="M6.9 455.5V543.3M38.4 455.5V543.3M87.3 455.5V543.3M135 455.5V543.3M164.9 455.5V543.3M196.9 455.5V543.3M238.4 455.5V543.3M268.2 455.5V543.3M301.8 455.5V543.3M338.2 455.5V543.3M376.3 455.5V543.3M418.4 455.5V543.3M452.3 455.5V543.3M490.4 455.5V543.3M528.8 455.5V543.3M6.9 455.5H528.8M6.9 485.2H528.8M6.9 497.2H528.8M6.9 508.4H528.8M6.9 519.9H528.8M6.9 531.6H528.8M6.9 543.3H528.8" stroke="#111" stroke-width="1.2" fill="none"/>
</svg>
</body></html>
